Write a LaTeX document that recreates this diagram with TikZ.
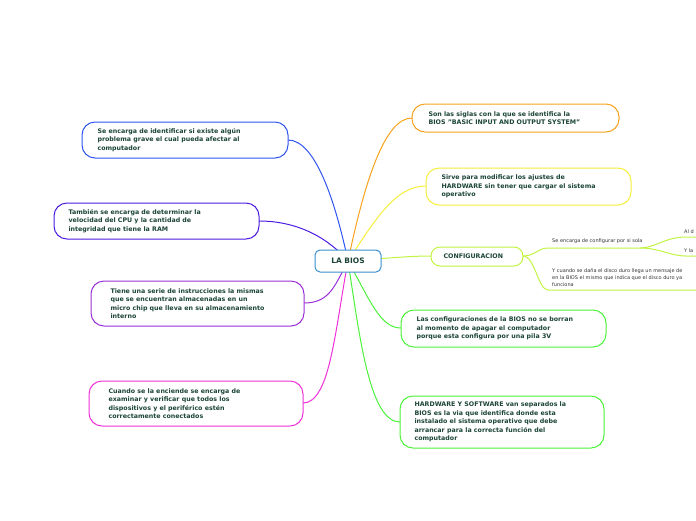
\documentclass[tikz,border=0pt]{standalone}
\usepackage{fontspec}
\setmainfont{DejaVu Sans}
\begin{document}
\begin{tikzpicture}[x=1pt,y=-1pt,
  txt/.style={text=tc,font=\bfseries\fontsize{6.3}{8.4}\selectfont,align=left,anchor=west},
  box/.style={draw=#1,line width=1pt,rounded corners=13pt,fill=white},
  sml/.style={text=black!80,font=\fontsize{5}{7}\selectfont,align=left,anchor=south west,inner sep=1pt},
  con/.style={draw=#1,line width=1pt}]
\definecolor{tc}{HTML}{1B4535}
\definecolor{cor}{HTML}{F7A21B}
\definecolor{cye}{HTML}{F5EE3B}
\definecolor{cli}{HTML}{C2F442}
\definecolor{cgr}{HTML}{4CF23A}
\definecolor{cbl}{HTML}{2F55F0}
\definecolor{cin}{HTML}{4B1BE0}
\definecolor{cvi}{HTML}{9B2FD8}
\definecolor{cma}{HTML}{F030D8}
\definecolor{ccen}{HTML}{3A8FD0}
\useasboundingbox (0,0) rectangle (696,520);
\coordinate (c) at (348,261);
% connectors
\draw[con=cor] (c) .. controls (365,180) and (385,118) .. (412,118);
\draw[con=cye] (c) .. controls (375,220) and (395,186) .. (426,186);
\draw[con=cli] (c) .. controls (390,258) and (410,256) .. (431,256);
\draw[con=cgr] (c) .. controls (370,300) and (380,328) .. (401,328);
\draw[con=cgr] (c) .. controls (360,340) and (370,422) .. (400,422);
\draw[con=cbl] (c) .. controls (335,200) and (315,140) .. (288,140);
\draw[con=cin] (c) .. controls (330,240) and (300,221) .. (259,221);
\draw[con=cvi] (c) .. controls (335,285) and (330,303) .. (304,303);
\draw[con=cma] (c) .. controls (335,330) and (330,403) .. (303,403);
% center
\node[draw=ccen,line width=1pt,rounded corners=5pt,fill=white,minimum width=66pt,minimum height=22pt,text=tc,font=\bfseries\fontsize{7.5}{9}\selectfont] (bios) at (348,261) {LA BIOS};
% right
\draw[box=cor] (412,104) rectangle (619,132);
\node[txt] (r1) at (425,118) {Son las siglas con la que se identifica la\\BIOS "BASIC INPUT AND OUTPUT SYSTEM"};
\draw[box=cye] (426,168) rectangle (631,205);
\node[txt] (r2) at (438,186.5) {Sirve para modificar los ajustes de\\HARDWARE sin tener que cargar el sistema\\operativo};
\draw[box=cli,rounded corners=9pt] (431,247) rectangle (523,266);
\node[txt] (r3) at (440,256.5) {CONFIGURACION};
\draw[box=cgr] (401,310) rectangle (606,347);
\node[txt] (r4) at (413,328.5) {Las configuraciones de la BIOS no se borran\\al momento de apagar el computador\\porque esta configura por una pila 3V};
\draw[box=cgr] (400,396) rectangle (604,448);
\node[txt] (r5) at (411,422) {HARDWARE Y SOFTWARE van separados la\\BIOS es la via que identifica donde esta\\instalado el sistema operativo que debe\\arrancar para la correcta función del\\computador};
% left
\draw[box=cbl] (82,122) rectangle (288,158);
\node[txt] (l1) at (94,140) {Se encarga de identificar si existe algún\\problema grave el cual pueda afectar al\\computador};
\draw[box=cin] (54,203) rectangle (259,239);
\node[txt] (l2) at (65,221) {También se encarga de determinar la\\velocidad del CPU y la cantidad de\\integridad que tiene la RAM};
\draw[box=cvi] (91,281) rectangle (304,326);
\node[txt] (l3) at (107,303.5) {Tiene una serie de instrucciones la mismas\\que se encuentran almacenadas en un\\micro chip que lleva en su almacenamiento\\interno};
\draw[box=cma] (89,381) rectangle (303,426);
\node[txt] (l4) at (105,403.5) {Cuando se la enciende se encarga de\\examinar y verificar que todos los\\dispositivos y el periférico estén\\correctamente conectados};
% sub nodes
\coordinate (s1a) at (548,248); \coordinate (s1b) at (640,248);
\coordinate (s2a) at (548,290); \coordinate (s2b) at (696,290);
\draw[con=cli] (523,256) .. controls (535,256) and (538,248) .. (s1a) -- (s1b);
\draw[con=cli] (523,256) .. controls (535,256) and (538,290) .. (s2a) -- (s2b);
\node[sml] (s1) at (551,245) {Se encarga de configurar por si sola};
\node[sml] (s2) at (551,288) {Y cuando se daña el disco duro llega un mensaje de\\en la BIOS el mismo que indica que el disco duro ya\\funciona};
\coordinate (t1) at (686,237); \coordinate (t2) at (686,256);
\draw[con=cli] (s1b) .. controls (655,248) and (665,237) .. (t1) -- (696,237);
\draw[con=cli] (s1b) .. controls (660,248) and (670,256) .. (t2) -- (696,256);
\node[sml] at (683,235) {Al d};
\node[sml] at (683,254) {Y la};
\end{tikzpicture}
\end{document}
